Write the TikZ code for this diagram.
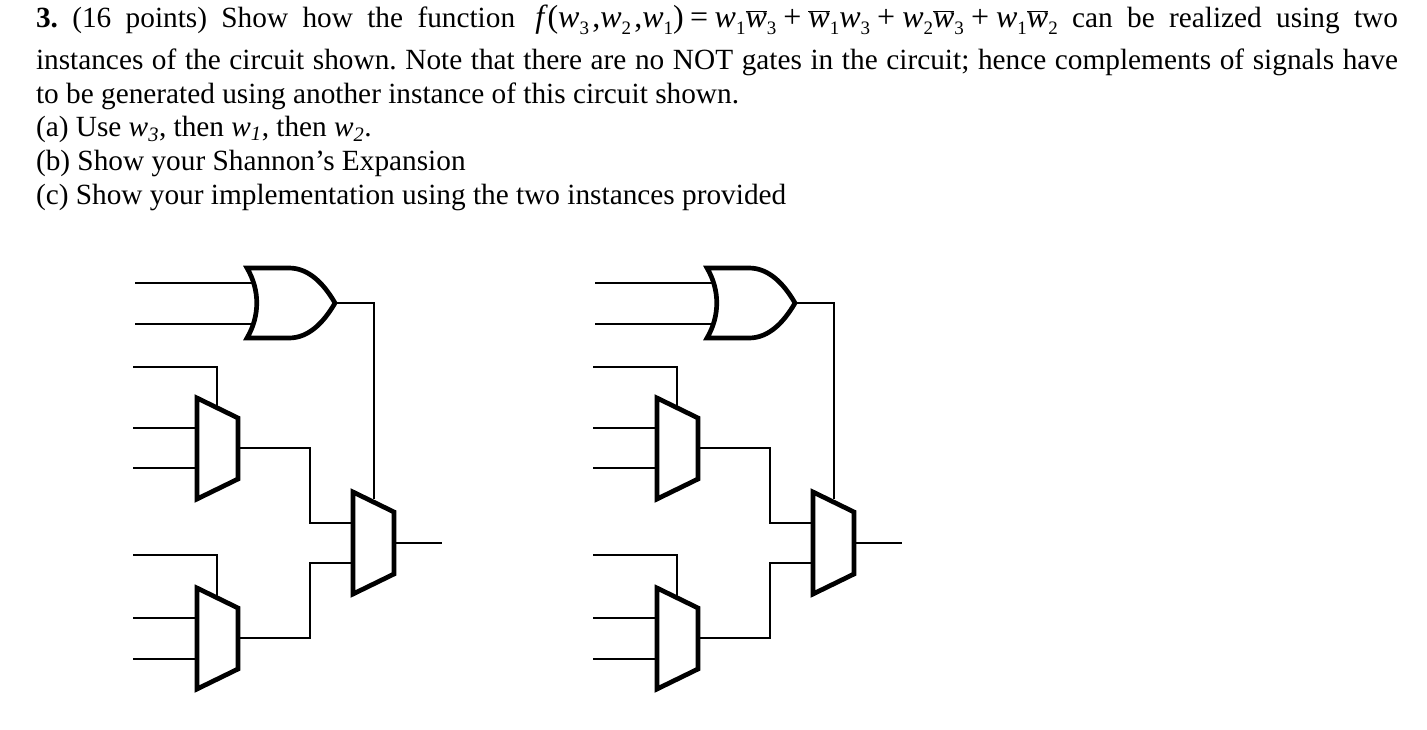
\documentclass[tikz,border=0pt]{standalone}
\usepackage{fontspec}
\setmainfont{Liberation Serif}
\frenchspacing
\newcommand{\SB}[1]{\raisebox{-0.24em}{\fontsize{19}{19}\selectfont #1}}
\newcommand{\W}[1]{\mbox{\itshape w}\SB{#1}}
\newcommand{\B}[1]{\ensuremath{\overline{\mbox{\itshape w}}}\SB{#1}}
\newcommand{\PL}{\hspace{0.22em}+\hspace{0.22em}}
\newcommand{\CM}{\hspace{0.1em},}
\tikzset{
  gate/.style={line width=4.7pt,line join=miter,fill=white},
  wire/.style={line width=1.7pt,line join=miter},
  textline/.style={anchor=base west,inner sep=0pt,outer sep=0pt,font=\fontsize{29.3}{29.3}\selectfont},
  circuit/.pic={
    % OR gate
    \coordinate (orTL) at (247,268);
    \coordinate (orBL) at (247,338);
    \coordinate (orTip) at (335,303);
    \coordinate (orA) at (135,283);
    \coordinate (orB) at (135,324);
    \coordinate (orAe) at (252,283);
    \coordinate (orBe) at (252,324);
    \coordinate (m3sel) at (374,499);
    \coordinate (orC) at (374,303);
    % mux 1
    \coordinate (s1) at (133,367);
    \coordinate (s1c) at (217,367);
    \coordinate (s1e) at (217,407);
    \coordinate (a1) at (133,428);
    \coordinate (a1e) at (197,428);
    \coordinate (b1) at (133,468);
    \coordinate (b1e) at (197,468);
    \coordinate (o1) at (238,448);
    \coordinate (o1c) at (310,448);
    \coordinate (o1d) at (310,523);
    \coordinate (i31) at (353,523);
    % mux 2
    \coordinate (s2) at (133,555);
    \coordinate (s2c) at (217,555);
    \coordinate (s2e) at (217,597);
    \coordinate (a2) at (133,618);
    \coordinate (a2e) at (197,618);
    \coordinate (b2) at (133,659);
    \coordinate (b2e) at (197,659);
    \coordinate (o2) at (238,638);
    \coordinate (o2c) at (310,638);
    \coordinate (o2d) at (310,563);
    \coordinate (i32) at (353,563);
    % mux 3
    \coordinate (o3) at (394,543);
    \coordinate (o3e) at (442,543);
    % wires
    \draw[wire] (orA) -- (orAe);
    \draw[wire] (orB) -- (orBe);
    \draw[wire] (orTip) -- (orC) -- (m3sel);
    \draw[wire] (s1) -- (s1c) -- (s1e);
    \draw[wire] (a1) -- (a1e);
    \draw[wire] (b1) -- (b1e);
    \draw[wire] (o1) -- (o1c) -- (o1d) -- (i31);
    \draw[wire] (s2) -- (s2c) -- (s2e);
    \draw[wire] (a2) -- (a2e);
    \draw[wire] (b2) -- (b2e);
    \draw[wire] (o2) -- (o2c) -- (o2d) -- (i32);
    \draw[wire] (o3) -- (o3e);
    % gates
    \draw[gate,miter limit=3] (orTL) -- (289,268) .. controls (309,268) and (324,284) .. (orTip)
       .. controls (324,322) and (309,338) .. (289,338) -- (orBL)
       .. controls (260,316) and (260,290) .. cycle;
    \draw[gate] (197,398) -- (238,418) -- (238,479) -- (197,499) -- cycle;
    \draw[gate] (197,588) -- (238,608) -- (238,669) -- (197,689) -- cycle;
    \draw[gate] (353,492) -- (394,512) -- (394,574) -- (353,594) -- cycle;
  }
}
\begin{document}
\begin{tikzpicture}[x=1pt,y=-1pt]
\useasboundingbox (0,0) rectangle (1427,729);
\fill[white] (0,0) rectangle (1427,729);
\node[textline] (t1) at (36,27) {\makebox[1362pt][s]{\textbf{3.} (16 points) Show how the function \hspace{6pt}\mbox{\fontsize{32}{32}\selectfont\itshape f\hspace{0.1em}\upshape(\W{3}\CM\W{2}\CM\W{1})\hspace{0.2em}=\hspace{0.2em}\W{1}\B{3}\PL\B{1}\W{3}\PL\W{2}\B{3}\PL\W{1}\B{2}} can be realized using two}};
\node[textline] (t2) at (36,69) {\makebox[1362pt][s]{instances of the circuit shown. Note that there are no NOT gates in the circuit; hence complements of signals have}};
\node[textline] (t3) at (36,103) {to be generated using another instance of this circuit shown.};
\node[textline] (t4) at (36,136) {(a) Use \textit{w\textsubscript{3}}, then \textit{w\textsubscript{1}}, then \textit{w\textsubscript{2}}.};
\node[textline] (t5) at (36,170) {(b) Show your Shannon’s Expansion};
\node[textline] (t6) at (36,204) {(c) Show your implementation using the two instances provided};
\pic (left) at (0,0) {circuit};
\pic (right) at (460,0) {circuit};
\end{tikzpicture}
\end{document}
